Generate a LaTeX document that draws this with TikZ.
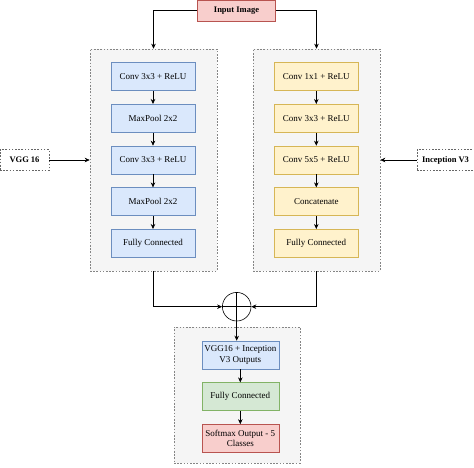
\documentclass[tikz,border=0pt]{standalone}
\usepackage{fontspec}
\setmainfont{Liberation Serif}
\usetikzlibrary{arrows.meta}
\definecolor{bluefill}{HTML}{DAE8FC}\definecolor{bluedraw}{HTML}{6C8EBF}
\definecolor{yelfill}{HTML}{FFF2CC}\definecolor{yeldraw}{HTML}{D6B656}
\definecolor{grnfill}{HTML}{D5E8D4}\definecolor{grndraw}{HTML}{82B366}
\definecolor{redfill}{HTML}{F8CECC}\definecolor{reddraw}{HTML}{B85450}
\definecolor{boxfill}{HTML}{F5F5F5}\definecolor{boxdraw}{HTML}{666666}
\tikzset{arr/.style={-{Stealth[length=5pt,width=4.5pt]}, line width=0.6pt}}
\tikzset{blk/.style={rectangle, minimum width=84pt, minimum height=28pt, inner sep=0pt,
			align=center, line width=0.6pt, font=\fontsize{9}{10.5}\selectfont}}
\tikzset{group/.style={rectangle, draw=boxdraw!80, fill=boxfill, line width=0.6pt,
			dash pattern=on 1.6pt off 1.6pt, inner sep=0pt}}
\tikzset{tag/.style={rectangle, draw=boxdraw, fill=white, line width=0.8pt,
			dash pattern=on 1.6pt off 1.6pt, minimum height=21pt, inner sep=0pt,
			font=\bfseries\fontsize{8.5}{10}\selectfont}}

\begin{document}
\begin{tikzpicture}[x=1pt, y=-1pt]
	\useasboundingbox (0,0) rectangle (474,467);
	
	% containers
	\node[group, minimum width=127pt, minimum height=222pt] (vggbox) at (153.5,160) {};
	\node[group, minimum width=127pt, minimum height=222pt] (incbox) at (316.5,160) {};
	\node[group, minimum width=126pt, minimum height=136pt] (fusebox) at (237,395) {};
	
	% input
	\node[blk, draw=reddraw, fill=redfill, minimum width=78pt, minimum height=21pt,
		font=\bfseries\fontsize{8.5}{10}\selectfont] (input) at (236.5,10.5) {Input Image};
	
	% side labels
	\node[tag, minimum width=49pt] (vgglab) at (24.5,160) {VGG 16};
	\node[tag, minimum width=57pt] (inclab) at (445.5,160) {Inception V3};
	
	% VGG 16 branch
	\foreach \y/\name/\txt in {76.7/v1/Conv 3x3 + ReLU, 118.3/v2/MaxPool 2x2, 160/v3/Conv 3x3 + ReLU,
		201.7/v4/MaxPool 2x2, 243.3/v5/Fully Connected} {
		\node[blk, draw=bluedraw, fill=bluefill] (\name) at (153,\y) {\txt};
	};
	
	% Inception V3 branch
	\foreach \y/\name/\txt in {76.7/i1/Conv 1x1 + ReLU, 118.3/i2/Conv 3x3 + ReLU, 160/i3/Conv 5x5 + ReLU,
		201.7/i4/Concatenate, 243.3/i5/Fully Connected} {
		\node[blk, draw=yeldraw, fill=yelfill] (\name) at (316.3,\y) {\txt};
	};
	
	\foreach \a/\b in {v1/v2, v2/v3, v3/v4, v4/v5, i1/i2, i2/i3, i3/i4, i4/i5} {
		\draw[arr] (\a) -- (\b);
	};
	
	% fusion
	\node[circle, draw, fill=white, line width=0.6pt, minimum size=28.6pt, inner sep=0pt] (sum) at (236.7,306.7) {};
	\draw[line width=0.6pt] (sum.north) -- (sum.south) (sum.west) -- (sum.east);
	
	\node[blk, draw=bluedraw, fill=bluefill, minimum width=77pt] (f1) at (240.3,355) {VGG16 + Inception\\V3 Outputs};
	\node[blk, draw=grndraw, fill=grnfill, minimum width=77pt] (f2) at (240.3,396.7) {Fully Connected};
	\node[blk, draw=reddraw, fill=redfill, minimum width=77pt] (f3) at (240.3,438.5) {Softmax Output - 5\\Classes};
	
	% connectors
	\draw[arr] (input.west) -| (vggbox.north);
	\draw[arr] (input.east) -| (incbox.north);
	\draw[arr] (vgglab.east) -- (vggbox.west);
	\draw[arr] (inclab.west) -- (incbox.east);
	\draw[arr] (vggbox.south) |- (sum.west);
	\draw[arr] (incbox.south) |- (sum.east);
	\draw[arr] (sum.south) -- (sum.south |- f1.north);
	\draw[arr] (f1) -- (f2);
	\draw[arr] (f2) -- (f3);
	
\end{tikzpicture}
\end{document}
